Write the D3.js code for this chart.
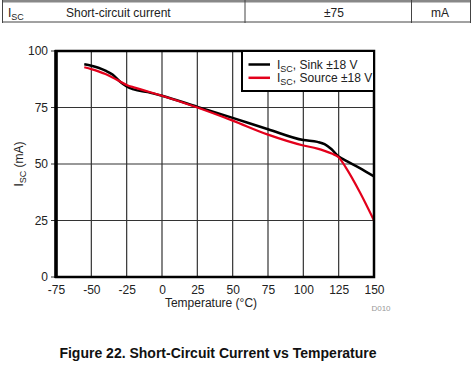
<!DOCTYPE html>
<html lang="en">
    <head>
        <meta charset="utf-8">
        <title>Short-Circuit Current vs Temperature</title>
        <style>
            body { margin: 0; background: #fff; }
            text { font-family: "Liberation Sans", Arial, sans-serif; fill: #222; }
        </style>
        <script type="text/javascript" src="https://cdn.jsdelivr.net/npm/d3@7/dist/d3.min.js"></script>
    </head>
    <body>
        <script>
            /* data */
            var temps = [-55, -50, -45, -40, -35, -30, -25, -20, -10, 0, 25, 50, 75, 100, 110, 115, 120, 125, 130, 140, 150];
            var sink = [94.1, 93.5, 92.6, 91.3, 89.6, 86.6, 84.3, 83.0, 81.8, 80.2, 75.3, 70.4, 65.4, 60.6, 59.8, 58.8, 56.5, 53.3, 51.5, 48.2, 44.5];
            var source = [92.8, 92.0, 91.0, 89.8, 88.3, 86.6, 85.0, 83.9, 82.1, 80.2, 75.0, 69.2, 63.0, 58.2, 56.8, 55.8, 54.6, 53.0, 48.5, 37.5, 25];
            var xTicks = [-75, -50, -25, 0, 25, 50, 75, 100, 125, 150];
            var yTicks = [0, 25, 50, 75, 100];

            var W = 474, H = 372;
            var margin = {top: 51, left: 56};
            var width = 318, height = 226;

            var svg = d3.select("body").append("svg")
                .attr("width", W)
                .attr("height", H);

            /* table row at the top */
            var tbl = svg.append("g");
            tbl.append("line").attr("x1", 2).attr("x2", 471).attr("y1", 1).attr("y2", 1)
                .attr("stroke", "#888").attr("stroke-width", 3);
            tbl.append("line").attr("x1", 2).attr("x2", 471).attr("y1", 22).attr("y2", 22)
                .attr("stroke", "#444").attr("stroke-width", 1);
            [2.5, 245, 411.5, 470.5].forEach(function(x) {
                tbl.append("line").attr("x1", x).attr("x2", x).attr("y1", 0).attr("y2", 23)
                    .attr("stroke", "#444").attr("stroke-width", 1);
            });
            var isc = tbl.append("text").attr("x", 8).attr("y", 17).style("font-size", "12px");
            isc.append("tspan").text("I");
            isc.append("tspan").attr("dy", 3).style("font-size", "9px").text("SC");
            tbl.append("text").attr("x", 66).attr("y", 17).style("font-size", "12px").text("Short-circuit current");
            tbl.append("text").attr("x", 334).attr("y", 17).attr("text-anchor", "middle").style("font-size", "12px").text("\u00b175");
            tbl.append("text").attr("x", 440).attr("y", 17).attr("text-anchor", "middle").style("font-size", "12px").text("mA");

            /* scales */
            var x = d3.scaleLinear().domain([-75, 150]).range([0, width]);
            var y = d3.scaleLinear().domain([0, 100]).range([height, 0]);

            var g = svg.append("g")
                .attr("transform", "translate(" + margin.left + "," + margin.top + ")");

            /* grid */
            g.append("g").selectAll("line").data(xTicks).enter().append("line")
                .attr("x1", function(d) { return x(d); }).attr("x2", function(d) { return x(d); })
                .attr("y1", 0).attr("y2", height)
                .attr("stroke", "#333").attr("stroke-width", 1.2);
            g.append("g").selectAll("line").data(yTicks).enter().append("line")
                .attr("x1", -5).attr("x2", width)
                .attr("y1", function(d) { return y(d); }).attr("y2", function(d) { return y(d); })
                .attr("stroke", "#333").attr("stroke-width", 1.2);

            /* axes labels, plain hyphen for negatives like the original */
            var xAxis = d3.axisBottom(x).tickValues(xTicks).tickSize(0).tickPadding(8)
                .tickFormat(function(d) { return String(d); });
            var xa = g.append("g").attr("transform", "translate(0," + height + ")").call(xAxis);
            xa.select(".domain").remove();
            xa.selectAll("text").style("font-size", "12px").attr("fill", "#222");

            var yAxis = d3.axisLeft(y).tickValues(yTicks).tickSize(0).tickPadding(8);
            var ya = g.append("g").call(yAxis);
            ya.select(".domain").remove();
            ya.selectAll("text").style("font-size", "12px").attr("fill", "#222");

            /* curves */
            var line = d3.line()
                .x(function(d) { return x(d[0]); })
                .y(function(d) { return y(d[1]); })
                .curve(d3.curveMonotoneX);

            g.append("path").datum(d3.zip(temps, sink))
                .attr("fill", "none").attr("stroke", "#000").attr("stroke-width", 2.5)
                .attr("d", line);
            g.append("path").datum(d3.zip(temps, source))
                .attr("fill", "none").attr("stroke", "#e3001b").attr("stroke-width", 2.2)
                .attr("d", line);

            /* frame */
            g.append("rect").attr("width", width).attr("height", height)
                .attr("fill", "none").attr("stroke", "#000").attr("stroke-width", 2.5);
            g.append("line").attr("x1", 0).attr("x2", 0).attr("y1", -1).attr("y2", height + 1)
                .attr("stroke", "#000").attr("stroke-width", 3.5);

            /* legend */
            var lg = g.append("g").attr("transform", "translate(" + (width - 132) + ",0)");
            lg.append("rect").attr("width", 132).attr("height", 40)
                .attr("fill", "#fff").attr("stroke", "#000").attr("stroke-width", 2);
            var items = [
                {name: ", Sink \u00b118 V", color: "#000"},
                {name: ", Source \u00b118 V", color: "#e3001b"}
            ];
            items.forEach(function(it, i) {
                var yy = 13.5 + i * 13.3;
                lg.append("line").attr("x1", 6.5).attr("x2", 28).attr("y1", yy).attr("y2", yy)
                    .attr("stroke", it.color).attr("stroke-width", 2.5);
                var t = lg.append("text").attr("x", 35).attr("y", yy + 4.5).style("font-size", "12px");
                t.append("tspan").text("I");
                t.append("tspan").attr("dy", 2.5).style("font-size", "9px").text("SC");
                t.append("tspan").attr("dy", -2.5).text(it.name);
            });

            /* axis titles */
            g.append("text").attr("x", width / 2 - 4).attr("y", height + 30)
                .attr("text-anchor", "middle").style("font-size", "12px")
                .text("Temperature (\u00b0C)");
            var yt = svg.append("text")
                .attr("transform", "translate(23,164) rotate(-90)")
                .attr("text-anchor", "middle").style("font-size", "12px");
            yt.append("tspan").text("I");
            yt.append("tspan").attr("dy", 3).style("font-size", "9px").text("SC");
            yt.append("tspan").attr("dy", -3).text(" (mA)");

            svg.append("text").attr("x", 381).attr("y", 311)
                .attr("text-anchor", "middle").style("font-size", "8px")
                .style("fill", "#999").text("D010");

            /* caption, stretched to the width it has in the original */
            var cap = svg.append("text").attr("x", 218).attr("y", 358)
                .attr("text-anchor", "middle").style("font-size", "14px")
                .style("font-weight", "bold").style("fill", "#111")
                .text("Figure 22. Short-Circuit Current vs Temperature");
            if (cap.node().getComputedTextLength() < 307) {
                cap.attr("textLength", 307).attr("lengthAdjust", "spacingAndGlyphs");
            }
        </script>
    </body>
</html>
